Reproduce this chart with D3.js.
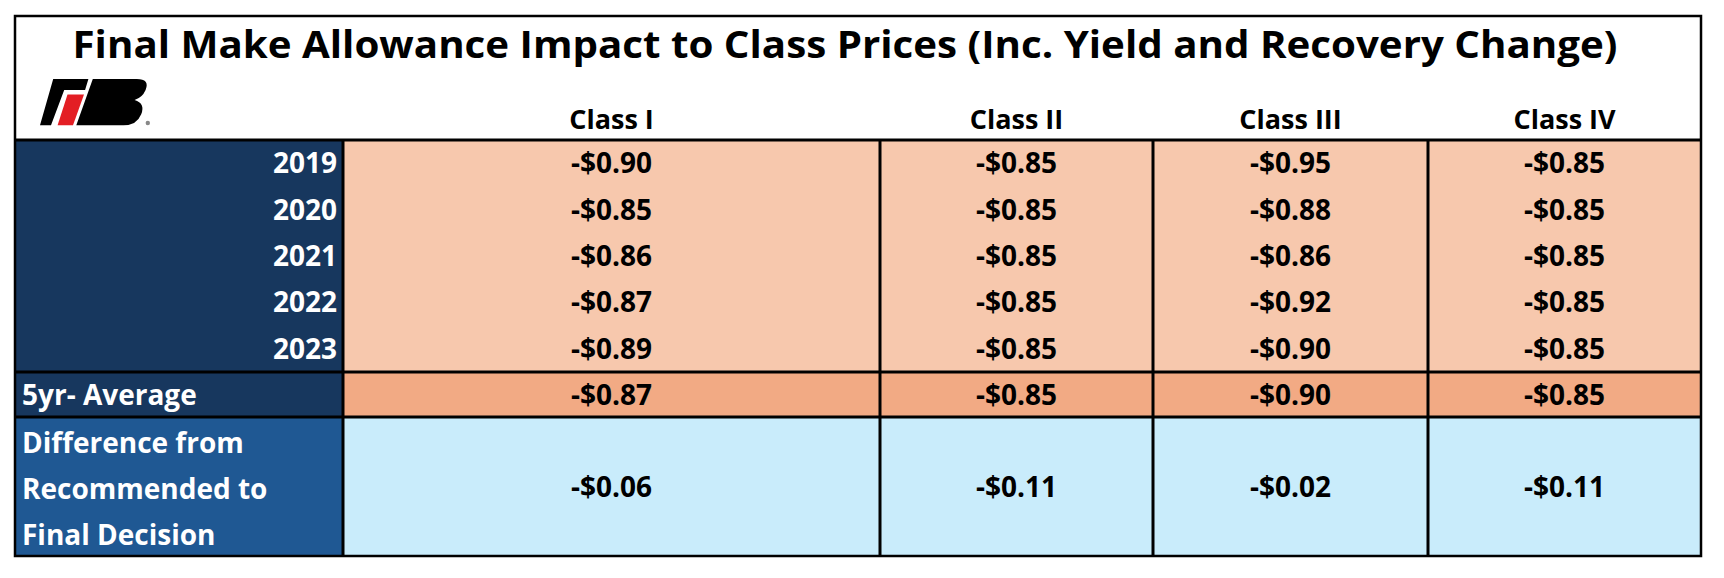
<!DOCTYPE html>
<html>
<head>
<meta charset="utf-8">
<script src="https://cdn.jsdelivr.net/npm/d3@7"></script>
<style>
  body { margin: 0; background: #fff; }
  text { font-family: "Open Sans", "Noto Sans", sans-serif; font-weight: 700; }
</style>
</head>
<body>
<div id="viz-container"></div>
<script>
let title = "Final Make Allowance Impact to Class Prices (Inc. Yield and Recovery Change)";
let classes = ["Class I", "Class II", "Class III", "Class IV"];
let years = ["2019", "2020", "2021", "2022", "2023"];
// values per year, per class
let classI   = [-0.90, -0.85, -0.86, -0.87, -0.89];
let classII  = [-0.85, -0.85, -0.85, -0.85, -0.85];
let classIII = [-0.95, -0.88, -0.86, -0.92, -0.90];
let classIV  = [-0.85, -0.85, -0.85, -0.85, -0.85];
let averages = [-0.87, -0.85, -0.90, -0.85];
let differences = [-0.06, -0.11, -0.02, -0.11];
let avgLabel = "5yr- Average";
let diffLabel = ["Difference from", "Recommended to", "Final Decision"];

let series = [classI, classII, classIII, classIV];
let fmt = v => (v < 0 ? "-" : "") + "$" + Math.abs(v).toFixed(2);

let viz = d3.select("#viz-container")
    .append("svg")
        .attr("width", 1724)
        .attr("height", 578);

// column edges
let colEdges = [15, 343, 880, 1153, 1428, 1701];
let x0 = colEdges[0], x1 = colEdges[colEdges.length - 1];
let y = d3.scaleBand().domain(years).range([140, 372]);
let avgTop = 372, avgBot = 417, diffBot = 556;
let fs = 28;

// frame
viz.append("rect").attr("x", x0).attr("y", 16).attr("width", x1 - x0).attr("height", diffBot - 16)
    .attr("fill", "#fff").attr("stroke", "#000").attr("stroke-width", 2);

viz.append("text").attr("x", 845).attr("y", 58).attr("text-anchor", "middle")
    .attr("font-size", 37).attr("textLength", 1545).attr("lengthAdjust", "spacingAndGlyphs")
    .attr("fill", "#000").text(title);

// logo
let logo = viz.append("g").attr("transform", "translate(40,79) scale(1.1)");
logo.append("path").attr("d", "M12,0 L44,0 L41,10 L22,10 L10,42 L0,42 Z").attr("fill", "#000");
logo.append("path").attr("d", "M25,14 L40,14 L30,42 L16,42 Z").attr("fill", "#e31e24");
logo.append("path").attr("d", "M48,0 L88,0 Q100,0 96,10 Q93,17 86,19 Q96,22 92,32 Q88,42 76,42 L33,42 Z").attr("fill", "#000");
logo.append("circle").attr("cx", 98).attr("cy", 40).attr("r", 2).attr("fill", "#888");

// column headers
viz.selectAll(".classHead").data(classes).enter()
    .append("text")
        .attr("class", "classHead")
        .attr("x", (d, i) => (colEdges[i + 1] + colEdges[i + 2]) / 2)
        .attr("y", 129)
        .attr("text-anchor", "middle")
        .attr("font-size", 27)
        .attr("fill", "#000")
        .text(d => d);

// label column
viz.append("rect").attr("x", x0).attr("y", 140).attr("width", colEdges[1] - x0).attr("height", avgBot - 140).attr("fill", "#17375e");
viz.append("rect").attr("x", x0).attr("y", avgBot).attr("width", colEdges[1] - x0).attr("height", diffBot - avgBot).attr("fill", "#1f5893");

// value cells background
for (let i = 0; i < 4; i++) {
    let cx = colEdges[i + 1], w = colEdges[i + 2] - cx;
    viz.append("rect").attr("x", cx).attr("y", 140).attr("width", w).attr("height", avgTop - 140).attr("fill", "#f7c8ad");
    viz.append("rect").attr("x", cx).attr("y", avgTop).attr("width", w).attr("height", avgBot - avgTop).attr("fill", "#f2aa84");
    viz.append("rect").attr("x", cx).attr("y", avgBot).attr("width", w).attr("height", diffBot - avgBot).attr("fill", "#c9ecfb");
}

// grid lines
let lines = viz.append("g").attr("stroke", "#000").attr("stroke-width", 3);
[140, avgTop, avgBot].forEach(yy => lines.append("line").attr("x1", x0).attr("x2", x1).attr("y1", yy).attr("y2", yy));
colEdges.slice(1, -1).forEach(xx => lines.append("line").attr("x1", xx).attr("x2", xx).attr("y1", 140).attr("y2", diffBot));
viz.append("rect").attr("x", x0).attr("y", 16).attr("width", x1 - x0).attr("height", diffBot - 16)
    .attr("fill", "none").attr("stroke", "#000").attr("stroke-width", 2.5);

// year labels
viz.selectAll(".yearText").data(years).enter()
    .append("text")
        .attr("x", 337)
        .attr("y", d => y(d) + y.bandwidth() / 2 + 10)
        .attr("text-anchor", "end")
        .attr("font-size", fs)
        .attr("fill", "#fff")
        .text(d => d);

viz.append("text").attr("x", 22).attr("y", avgTop + 33).attr("font-size", fs).attr("fill", "#fff").text(avgLabel);
viz.selectAll(".diffText").data(diffLabel).enter()
    .append("text")
        .attr("x", 22)
        .attr("y", (d, i) => 453 + i * 46)
        .attr("font-size", fs)
        .attr("fill", "#fff")
        .text(d => d);

// values
series.forEach((vals, i) => {
    let cx = (colEdges[i + 1] + colEdges[i + 2]) / 2;
    viz.selectAll(".val" + i).data(vals).enter()
        .append("text")
            .attr("x", cx)
            .attr("y", (d, j) => y(years[j]) + y.bandwidth() / 2 + 10)
            .attr("text-anchor", "middle")
            .attr("font-size", fs)
            .attr("fill", "#000")
            .text(d => fmt(d));
});
viz.selectAll(".avgVal").data(averages).enter()
    .append("text")
        .attr("x", (d, i) => (colEdges[i + 1] + colEdges[i + 2]) / 2)
        .attr("y", avgTop + 33)
        .attr("text-anchor", "middle")
        .attr("font-size", fs)
        .attr("fill", "#000")
        .text(d => fmt(d));
viz.selectAll(".diffVal").data(differences).enter()
    .append("text")
        .attr("x", (d, i) => (colEdges[i + 1] + colEdges[i + 2]) / 2)
        .attr("y", (avgBot + diffBot) / 2 + 10)
        .attr("text-anchor", "middle")
        .attr("font-size", fs)
        .attr("fill", "#000")
        .text(d => fmt(d));
</script>
</body>
</html>
